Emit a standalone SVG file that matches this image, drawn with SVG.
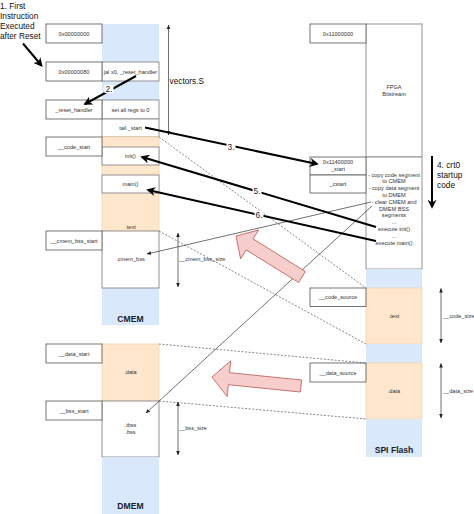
<svg xmlns="http://www.w3.org/2000/svg" width="474" height="514" viewBox="0 0 474 514">
<defs>
<style>
text{font-family:"Liberation Sans",Arial,sans-serif;fill:#333}
.s{font-size:5.6px;text-anchor:middle}
.l{font-size:5.6px}
.big{font-size:8.3px;fill:#111}
.num{font-size:8.3px;fill:#222;text-anchor:middle}
.title{font-size:8.6px;font-weight:bold;text-anchor:middle;fill:#1a1a2a}
.lab{fill:#fff;stroke:#666;stroke-width:0.9}
.cell{fill:#fff;stroke:#888;stroke-width:0.9}
.blue{fill:#dae8fc;stroke:none}
.org{fill:#ffe6cc;stroke:#f2cfa0;stroke-width:0.7}
.thick{stroke:#000;stroke-width:2;fill:none;marker-end:url(#ah)}
.thin{stroke:#333;stroke-width:0.7;fill:none;marker-end:url(#at)}
.dbl{stroke:#333;stroke-width:0.7;fill:none;marker-end:url(#at);marker-start:url(#at)}
.dash{stroke:#555;stroke-width:0.7;fill:none;stroke-dasharray:2 1.6}
.pink{fill:#f8cecc;stroke:#b85450;stroke-width:0.8}
</style>
<marker id="ah" viewBox="0 0 10 10" refX="8" refY="5" markerWidth="4.5" markerHeight="4.5" orient="auto"><path d="M0,0 L10,5 L0,10 L3,5 z" fill="#000"/></marker>
<marker id="at" viewBox="0 0 10 10" refX="9" refY="5" markerUnits="userSpaceOnUse" markerWidth="4.5" markerHeight="4.5" orient="auto-start-reverse"><path d="M0,1 L10,5 L0,9 z" fill="#222"/></marker>
</defs>
<rect width="474" height="514" fill="#fff"/>

<g id="cmem">
<rect class="blue" x="102" y="24" width="57" height="301"/>
<rect class="cell" x="102" y="62" width="57" height="19"/>
<text class="s" x="130.5" y="73.5">jal x0, _reset_handler</text>
<rect class="cell" x="102" y="100" width="57" height="19"/>
<text class="s" x="130.5" y="111.5">set all regs to 0</text>
<rect class="cell" x="102" y="119" width="57" height="18"/>
<text class="s" x="130.5" y="129.5">tail _start</text>
<rect class="org" x="102" y="137" width="57" height="94"/>
<rect class="cell" x="102" y="147" width="57" height="18"/>
<text class="s" x="130.5" y="158">init()</text>
<rect class="cell" x="102" y="175" width="57" height="18"/>
<text class="s" x="130.5" y="186">main()</text>
<text class="s" x="130.5" y="228.7">.text</text>
<rect class="cell" x="102" y="231" width="57" height="57"/>
<text class="s" x="130.5" y="261">.cmem_bss</text>
<text class="title" x="130.5" y="321.5">CMEM</text>
</g>

<g id="dmem">
<rect class="org" x="102" y="344" width="57" height="57"/>
<text class="s" x="130.5" y="374">.data</text>
<rect class="cell" x="102" y="401" width="57" height="56"/>
<text class="s" x="130.5" y="427">.tbss</text>
<text class="s" x="130.5" y="433.7">.bss</text>
<rect class="blue" x="102" y="457" width="57" height="57"/>
<text class="title" x="130.5" y="509">DMEM</text>
</g>

<g id="spiflash">
<rect class="cell" x="366" y="24" width="56" height="133"/>
<text class="s" x="394" y="88.7">FPGA</text>
<text class="s" x="394" y="96">Bitstream</text>
<rect class="cell" x="366" y="157" width="56" height="112"/>
<text class="s" x="394" y="176.5">- copy code segment</text>
<text class="s" x="394" y="183.3">to CMEM</text>
<text class="s" x="394" y="190.1">- copy data segment</text>
<text class="s" x="394" y="196.9">to DMEM</text>
<text class="s" x="394" y="203.7">- clear CMEM and</text>
<text class="s" x="394" y="210.5">DMEM BSS</text>
<text class="s" x="394" y="217.3">segments</text>
<text class="s" x="394" y="224.1">...</text>
<text class="s" x="394" y="230.9">execute init()</text>
<text class="s" x="394" y="237.7">...</text>
<text class="s" x="394" y="244.5">execute main()</text>
<rect class="blue" x="366" y="269" width="56" height="19"/>
<rect class="org" x="366" y="288" width="56" height="56"/>
<text class="s" x="394" y="317.7">.text</text>
<rect class="blue" x="366" y="344" width="56" height="19"/>
<rect class="org" x="366" y="363" width="56" height="56"/>
<text class="s" x="394" y="393">.data</text>
<rect class="blue" x="366" y="419" width="56" height="38"/>
<text class="title" x="394" y="452.5">SPI Flash</text>
</g>

<g id="labels-left">
<g id="lbl-0x00000000"><rect class="lab" x="46" y="24" width="56" height="19"/><text class="s" x="74" y="35.5">0x00000000</text></g>
<g id="lbl-0x00000080"><rect class="lab" x="46" y="62" width="56" height="19"/><text class="s" x="74" y="73.5">0x00000080</text></g>
<g id="lbl-reset"><rect class="lab" x="46" y="100" width="56" height="19"/><text class="s" x="74" y="111.5">_reset_handler</text></g>
<g id="lbl-code-start"><rect class="lab" x="46" y="137" width="56" height="19"/><text class="s" x="74" y="148.5">__code_start</text></g>
<g id="lbl-cmem-bss-start"><rect class="lab" x="46" y="231" width="56" height="19"/><text class="s" x="74" y="242.5">__cmem_bss_start</text></g>
<g id="lbl-data-start"><rect class="lab" x="46" y="344" width="56" height="19"/><text class="s" x="74" y="355.5">__data_start</text></g>
<g id="lbl-bss-start"><rect class="lab" x="46" y="401" width="56" height="19"/><text class="s" x="74" y="412.5">__bss_start</text></g>
</g>

<g id="labels-right">
<g id="lbl-0x11000000"><rect class="lab" x="310" y="24" width="56" height="19"/><text class="s" x="338" y="35.5">0x11000000</text></g>
<g id="lbl-start"><rect class="lab" x="310" y="157" width="56" height="18"/><text class="s" x="338" y="164.3">0x11400000</text><text class="s" x="338" y="171.3">_start</text></g>
<g id="lbl-cstart"><rect class="lab" x="310" y="175" width="56" height="18"/><text class="s" x="338" y="186.3">_cstart</text></g>
<g id="lbl-code-source"><rect class="lab" x="310" y="288" width="56" height="18.5"/><text class="s" x="338" y="299">__code_source</text></g>
<g id="lbl-data-source"><rect class="lab" x="310" y="363" width="56" height="19"/><text class="s" x="338" y="374.5">__data_source</text></g>
</g>

<g id="notes">
<text class="big" x="0" y="8.5">1. First</text>
<text class="big" x="0" y="18.5">Instruction</text>
<text class="big" x="0" y="28.5">Executed</text>
<text class="big" x="0" y="38.5">after Reset</text>
<text class="big" x="169.5" y="84">vectors.S</text>
<text class="big" x="437" y="167.5">4. crt0</text>
<text class="big" x="437" y="177.5">startup</text>
<text class="big" x="437" y="187.5">code</text>
<text class="l" x="179" y="261">__cmem_bss_size</text>
<text class="l" x="179" y="430">__bss_size</text>
<text class="l" x="443" y="318">__code_size</text>
<text class="l" x="443" y="393">__data_size</text>
</g>

<g id="connectors">
<path class="dash" d="M159,137 L366,288"/>
<path class="dash" d="M159,231 L366,344"/>
<path class="dash" d="M159,344 L366,363"/>
<path class="dash" d="M159,401 L366,419"/>
<path class="dbl" d="M168.5,25 L168.5,135"/>
<path class="dbl" d="M178,233 L178,287"/>
<path class="dbl" d="M178,402 L178,455"/>
<path class="dbl" d="M441,288.5 L441,343"/>
<path class="dbl" d="M441,363.5 L441,418"/>
<path class="thin" d="M371,202 L147,254"/>
<path class="thin" d="M372,206 L146,413"/>
<polygon class="pink" points="305.4,271.5 253,238.9 258.6,230 236,236 240.6,258.8 246.2,249.9 298.6,282.5"/>
<polygon class="pink" points="301.6,380 229.5,372.7 230.7,360.8 212,377 227.1,396.6 228.3,384.7 300.4,392"/>
<path class="thick" d="M23,43.5 L41.5,65.5"/>
<path class="thick" d="M136,76 L85,104"/>
<path class="thick" d="M145,127.5 L317,164"/>
<path class="thick" d="M376,227 L142,157"/>
<path class="thick" d="M376,241 L148,190"/>
<path class="thick" d="M432,156 L432,207"/>
<rect x="104.5" y="85" width="9" height="8" fill="#fff"/>
<text class="num" x="109" y="92">2.</text>
<rect x="226.5" y="142" width="9" height="8" fill="#fff"/>
<text class="num" x="231" y="149.5">3.</text>
<rect x="252.5" y="187" width="9" height="8" fill="#fff"/>
<text class="num" x="257" y="194">5.</text>
<rect x="254.5" y="211" width="9" height="8" fill="#fff"/>
<text class="num" x="259" y="218">6.</text>
</g>
</svg>
